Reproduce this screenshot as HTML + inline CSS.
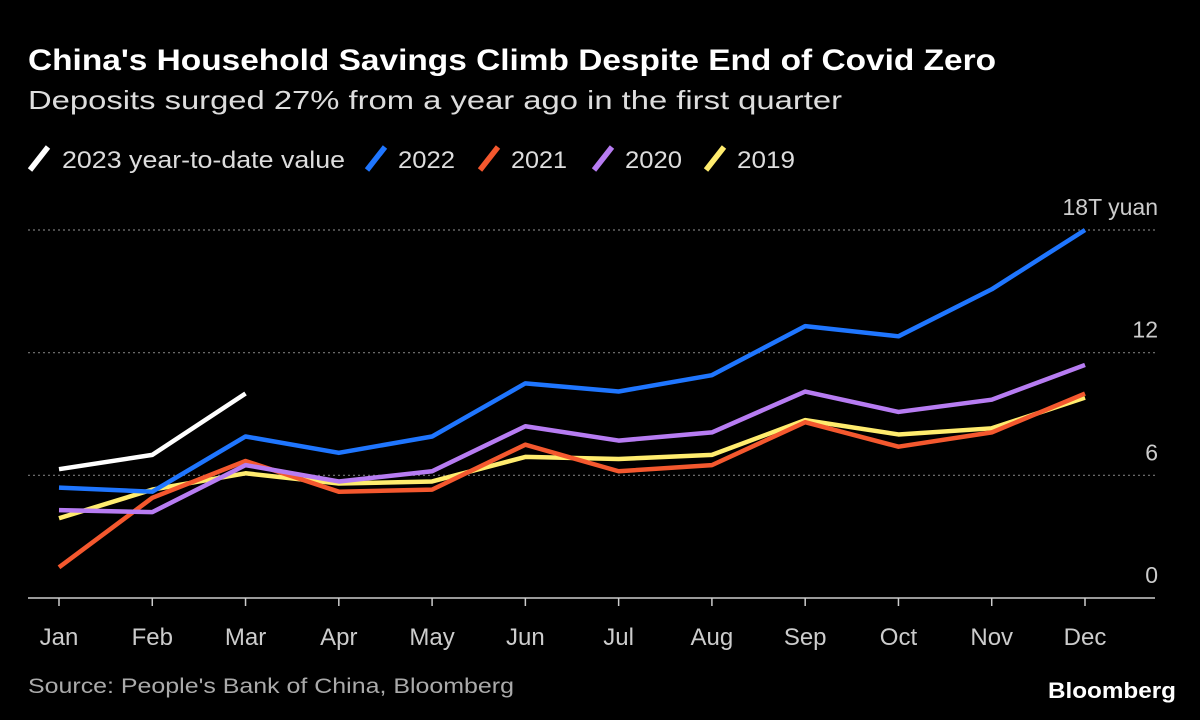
<!DOCTYPE html>
<html><head><meta charset="utf-8"><style>
html,body{margin:0;padding:0;background:#000;}
svg{display:block;font-family:"Liberation Sans",sans-serif;}
</style></head><body>
<svg id="chart" width="1200" height="720" viewBox="0 0 1200 720">
<rect width="1200" height="720" fill="#000"/>
<text x="28" y="70" fill="#fff" font-size="30" font-weight="bold" textLength="968" lengthAdjust="spacingAndGlyphs">China's Household Savings Climb Despite End of Covid Zero</text>
<text x="28" y="109" fill="#ddd" font-size="26" textLength="814" lengthAdjust="spacingAndGlyphs">Deposits surged 27% from a year ago in the first quarter</text>
<g id="legend"></g>
<g id="grid"></g>
<g id="lines"></g>
<g id="xlabels"></g>
<text x="28" y="693" fill="#aaa" font-size="21" textLength="486" lengthAdjust="spacingAndGlyphs">Source: People's Bank of China, Bloomberg</text>
<text x="1176" y="698" fill="#fff" font-size="22" font-weight="bold" text-anchor="end" textLength="128" lengthAdjust="spacingAndGlyphs">Bloomberg</text>
</svg>
<script>
const months=["Jan","Feb","Mar","Apr","May","Jun","Jul","Aug","Sep","Oct","Nov","Dec"];
const yTicks=[0,6,12,18];
const yTickLabels=["0","6","12","18T yuan"];
const s2023=[6.3,7.0,10.0];
const s2022=[5.4,5.2,7.9,7.1,7.9,10.5,10.1,10.9,13.3,12.8,15.1,18.0];
const s2021=[1.5,4.9,6.7,5.2,5.3,7.5,6.2,6.5,8.6,7.4,8.1,10.0];
const s2020=[4.3,4.2,6.5,5.7,6.2,8.4,7.7,8.1,10.1,9.1,9.7,11.4];
const s2019=[3.9,5.3,6.1,5.6,5.7,6.9,6.8,7.0,8.7,8.0,8.3,9.8];
const seriesNames=["2023 year-to-date value","2022","2021","2020","2019"];
const NS="http://www.w3.org/2000/svg";
const x=i=>59+i*(1085-59)/11;
const y=v=>598-v*(598-230)/18;
function mk(tag,attrs,parent){const e=document.createElementNS(NS,tag);for(const k in attrs)e.setAttribute(k,attrs[k]);parent.appendChild(e);return e;}
const grid=document.getElementById('grid');
yTicks.forEach((t,i)=>{
  if(t!==0){const l=mk('line',{x1:28,x2:1155,y1:y(t),y2:y(t),stroke:'#777','stroke-width':1.2,'stroke-dasharray':'2,3'},grid);
  
  }
  const tx=mk('text',{x:1158,y:y(t)-15,fill:'#ccc','font-size':23,'text-anchor':'end'},grid);
  tx.textContent=yTickLabels[i];
  
  
});
const ax=mk('line',{x1:28,x2:1155,y1:598,y2:598,stroke:'#ccc','stroke-width':1.5},grid);


const xl=document.getElementById('xlabels');
months.forEach((m,i)=>{
  const tk=mk('line',{x1:x(i),x2:x(i),y1:598,y2:606,stroke:'#ccc','stroke-width':1.5},xl);
  
  
  const t=mk('text',{x:x(i),y:645,fill:'#ccc','font-size':24,'text-anchor':'middle'},xl);
  t.textContent=m;
  
  
});
const lines=document.getElementById('lines');
const all=[[s2019,'#ffec6e','2019'],[s2021,'#f4582e','2021'],[s2020,'#b77cf2','2020'],[s2022,'#1f76ff','2022'],[s2023,'#ffffff','2023']];
all.forEach(([d,c,n])=>{
  const p=mk('polyline',{points:d.map((v,i)=>x(i)+','+y(v)).join(' '),fill:'none',stroke:c,'stroke-width':4.5,'stroke-linejoin':'round'},lines);
  
  
});
const lg=document.getElementById('legend');
const lgItems=[[28,62,283,'#ffffff'],[365,398,57,'#1f76ff'],[478,511,56,'#f4582e'],[592,625,57,'#b77cf2'],[704,737,58,'#ffec6e']];
lgItems.forEach(([sx,tx,w,c],i)=>{
  const sw=mk('line',{x1:sx+2,y1:170,x2:sx+20,y2:147,stroke:c,'stroke-width':5.5},lg);
  
  
  const t=mk('text',{x:tx,y:168,fill:'#ddd','font-size':24,textLength:w,lengthAdjust:'spacingAndGlyphs'},lg);
  t.textContent=seriesNames[i];
  
  
});
</script>
</body></html>
